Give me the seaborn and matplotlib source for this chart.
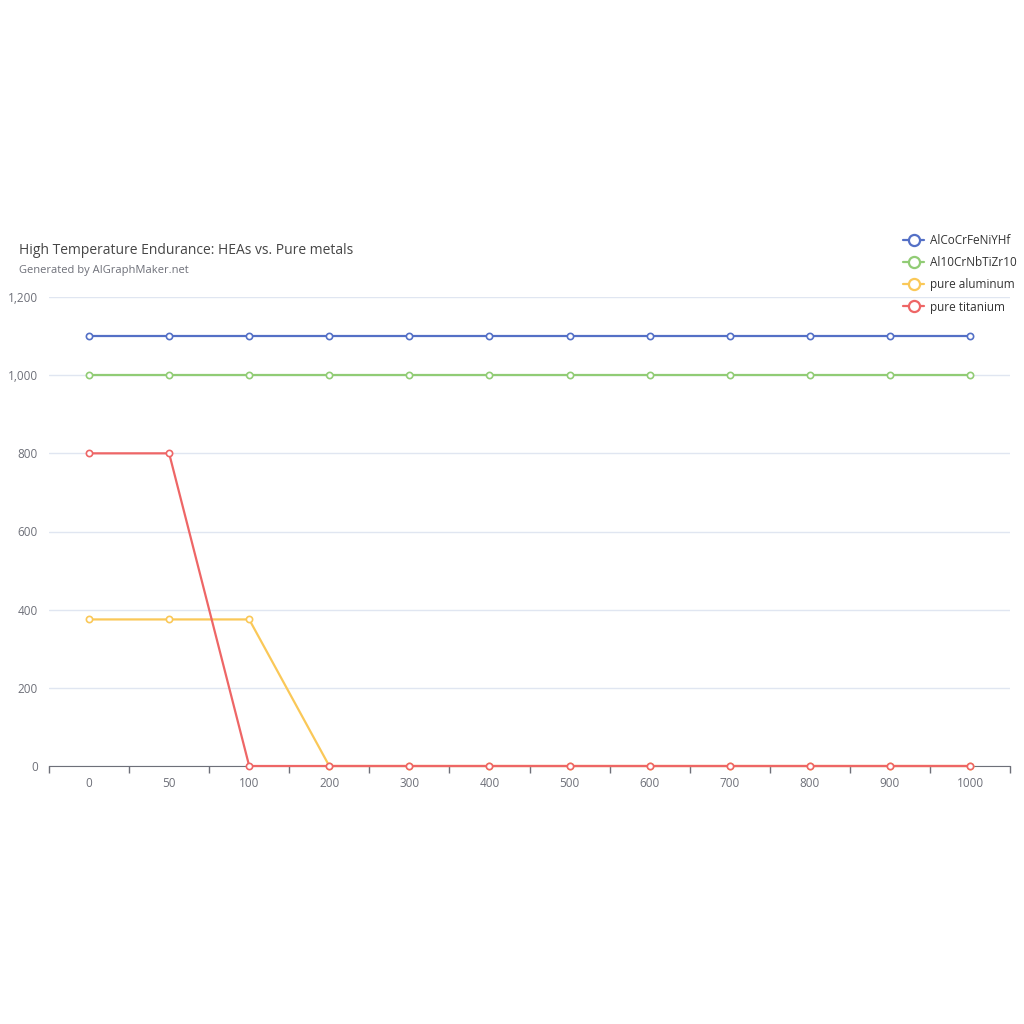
import matplotlib
matplotlib.use("Agg")
import matplotlib.pyplot as plt
import seaborn as sns
import pandas as pd
import numpy as np

# data
temps = ["0", "50", "100", "200", "300", "400", "500", "600", "700", "800", "900", "1000"]
alcocrfeniyhf = [1100] * 12
al10crnbtizr10 = [1000] * 12
pure_aluminum = [375, 375, 375, 0, 0, 0, 0, 0, 0, 0, 0, 0]
pure_titanium = [800, 800, 0, 0, 0, 0, 0, 0, 0, 0, 0, 0]

series = {
    "AlCoCrFeNiYHf": alcocrfeniyhf,
    "Al10CrNbTiZr10": al10crnbtizr10,
    "pure aluminum": pure_aluminum,
    "pure titanium": pure_titanium,
}
colors = ["#5470c6", "#91cc75", "#fac858", "#ee6666"]

rows = []
for name, vals in series.items():
    for i, v in enumerate(vals):
        rows.append({"pos": i, "temp": temps[i], "value": v, "series": name})
df = pd.DataFrame(rows)

sns.set_style("white")
plt.rcParams["font.family"] = ["Open Sans", "DejaVu Sans"]

fig = plt.figure(figsize=(10.24, 10.24), dpi=100)
ax = fig.add_axes([49 / 1024, (1024 - 766) / 1024, (1010 - 49) / 1024, (766 - 297) / 1024])

# one call per series so the marker edge can take the series colour
for (name, vals), c in zip(series.items(), colors):
    sub = df[df["series"] == name]
    sns.lineplot(data=sub, x="pos", y="value", color=c,
                 marker="o", markersize=4.5, markerfacecolor="white",
                 markeredgecolor=c, markeredgewidth=1.2,
                 linewidth=1.6, ax=ax, zorder=3, clip_on=False)

ax.set_xlim(-0.5, 11.5)
ax.set_ylim(0, 1200)
ax.set_yticks(range(0, 1201, 200))
ax.set_yticklabels(["0", "200", "400", "600", "800", "1,000", "1,200"])
ax.yaxis.grid(True, color="#E0E6F1", linewidth=1)
ax.set_axisbelow(True)

# ticks at band boundaries, labels at centers
ax.set_xticks(np.arange(-0.5, 12, 1))
ax.set_xticklabels([])
ax.set_xticks(np.arange(12), minor=True)
ax.set_xticklabels(temps, minor=True)
ax.tick_params(axis="x", which="major", bottom=True, length=5, color="#6E7079", width=1)
ax.tick_params(axis="x", which="minor", bottom=True, length=0, pad=8, labelsize=8.5, labelcolor="#6E7079")
ax.tick_params(axis="y", length=0, pad=8, labelsize=8.5, labelcolor="#6E7079")

for s in ["top", "right", "left"]:
    ax.spines[s].set_visible(False)
ax.spines["bottom"].set_color("#6E7079")
ax.spines["bottom"].set_zorder(1)
ax.set_xlabel("")
ax.set_ylabel("")

fig.text(19 / 1024, 1 - 250 / 1024, "High Temperature Endurance: HEAs vs. Pure metals",
         fontsize=10, color="#464646", va="center")
fig.text(19 / 1024, 1 - 271 / 1024, "Generated by AIGraphMaker.net",
         fontsize=8, color="#6E7079", va="center")

handles = [plt.Line2D([], [], color=c, linewidth=1.6, marker="o", markersize=8,
                      markerfacecolor="white", markeredgewidth=1.6) for c in colors]
fig.legend(handles, list(series.keys()), loc="upper left",
           bbox_to_anchor=(903 / 1024, 1 - 234 / 1024), frameon=False,
           fontsize=8.5, labelspacing=0.78, handlelength=1.8, handletextpad=0.45,
           borderaxespad=0, borderpad=0, labelcolor="#333333")

fig.savefig("out.png", dpi=100, facecolor="white")
